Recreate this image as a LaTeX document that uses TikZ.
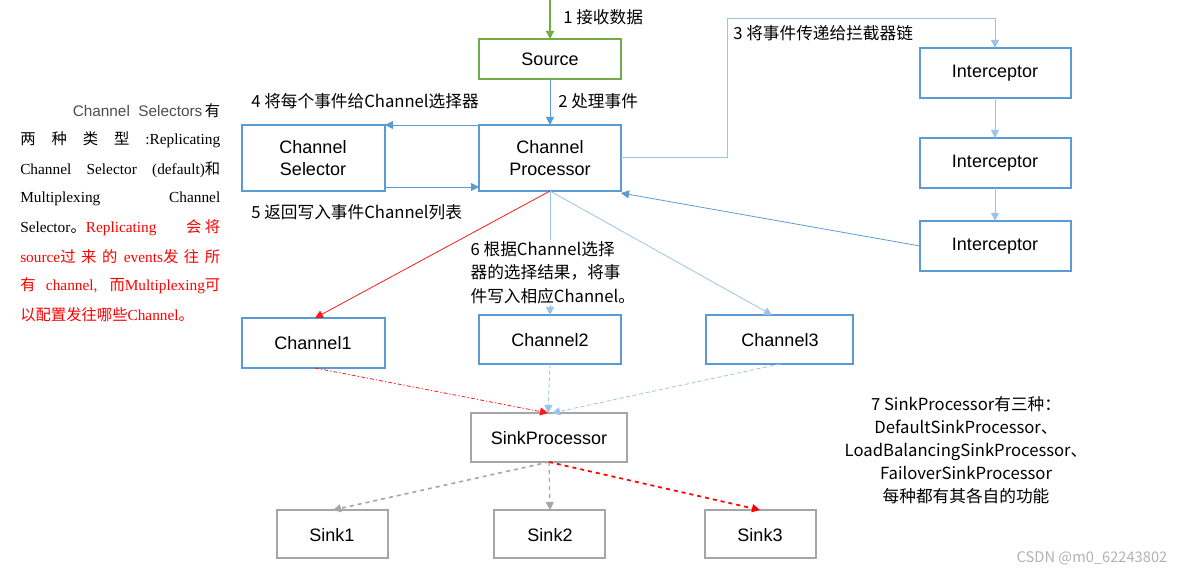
\documentclass[tikz,border=0pt]{standalone}
\usepackage{fontspec}
\setmainfont{Liberation Serif}
\newfontfamily\cjk{Noto Sans CJK SC}
\newfontfamily\sfnt{Liberation Sans}
\usetikzlibrary{arrows.meta}
\definecolor{bl}{HTML}{5B9BD5}
\definecolor{blb}{HTML}{9DC3E6}
\definecolor{gr}{HTML}{70AD47}
\definecolor{gy}{HTML}{A6A6A6}
\begin{document}
\begin{tikzpicture}[x=0.75pt,y=-0.75pt,
  box/.style={draw=#1,line width=0.9pt,fill=white},
  lbl/.style={anchor=west,inner sep=0,font=\cjk\fontsize{12.5}{15}\selectfont},
  bt/.style={font=\sfnt\fontsize{13.5}{17}\selectfont,align=center},
  arr/.style={-{Triangle[length=6pt,width=6pt]},line width=0.6pt}]
\useasboundingbox (0,0) rectangle (1186,577);
\draw[box=gr] (479,39) rectangle (621,79); \node[bt] (src) at (550,59) {Source};
\coordinate (srcN) at (550,39); \coordinate (srcS) at (550,79);
\draw[box=bl] (242,125) rectangle (385,191); \node[bt] (cs) at (313,158) {Channel\\Selector};
\draw[box=bl] (479,125) rectangle (621,191); \node[bt] (cp) at (550,158) {Channel\\Processor};
\draw[box=bl] (920,48) rectangle (1071,98); \node[bt] (i1) at (995,73) {Interceptor};
\draw[box=bl] (920,138) rectangle (1071,188); \node[bt] (i2) at (995,163) {Interceptor};
\draw[box=bl] (920,221) rectangle (1071,271); \node[bt] (i3) at (995,246) {Interceptor};
\draw[box=bl] (242,318) rectangle (385,368); \node[bt] (c1) at (313,343) {Channel1};
\draw[box=bl] (479,315) rectangle (621,364); \node[bt] (c2) at (550,340) {Channel2};
\draw[box=bl] (706,315) rectangle (853,364); \node[bt] (c3) at (780,340) {Channel3};
\draw[box=gy] (471,413) rectangle (627,462); \node[bt] (sp) at (549,438) {SinkProcessor};
\draw[box=gy] (277,510) rectangle (388,558); \node[bt] (s1) at (332,535) {Sink1};
\draw[box=gy] (494,510) rectangle (605,558); \node[bt] (s2) at (550,535) {Sink2};
\draw[box=gy] (705,510) rectangle (816,558); \node[bt] (s3) at (760,535) {Sink3};
% coordinates
\coordinate (top) at (550,0);
\coordinate (cpT) at (550,125); \coordinate (cpR) at (621,157); \coordinate (cpB) at (550,191);
\coordinate (cpBR) at (621,193);
\coordinate (k1) at (727,157); \coordinate (k2) at (727,18); \coordinate (k3) at (995,18);
\coordinate (i1T) at (995,48); \coordinate (i1B) at (995,98); \coordinate (i2T) at (995,138);
\coordinate (i2B) at (995,188); \coordinate (i3T) at (995,221); \coordinate (i3L) at (920,246);
\coordinate (cpa) at (479,125); \coordinate (csa) at (385,125);
\coordinate (csb) at (385,187); \coordinate (cpb) at (479,187);
\coordinate (c1T) at (315,318); \coordinate (c2T) at (550,315); \coordinate (c3T) at (772,315);
\coordinate (c1B) at (315,368); \coordinate (c2B) at (550,364); \coordinate (c3B) at (780,364);
\coordinate (spT1) at (548,413); \coordinate (spT2) at (552,413);
\coordinate (spB) at (549,462);
\coordinate (s1T) at (333,510); \coordinate (s2T) at (550,510); \coordinate (s3T) at (760,510);
\draw[arr,gr,line width=0.9pt] (top) -- (srcN);
\draw[arr,bl] (srcS) -- (cpT);
\draw[arr,blb] (cpR) -- (k1) -- (k2) -- (k3) -- (i1T);
\draw[arr,blb] (i1B) -- (i2T);
\draw[arr,blb] (i2B) -- (i3T);
\draw[arr,bl] (i3L) -- (cpBR);
\draw[arr,bl] (cpa) -- (csa);
\draw[arr,bl] (csb) -- (cpb);
\draw[arr,red!90] (cpB) -- (c1T);
\draw[arr,blb] (cpB) -- (c2T);
\draw[arr,blb] (cpB) -- (c3T);
\draw[arr,red!90,dash pattern=on 3pt off 1.5pt on 1pt off 1.5pt] (c1B) -- (spT1);
\draw[arr,blb,densely dashed] (c2B) -- (spT1);
\draw[arr,blb,densely dashed] (c3B) -- (spT2);
\draw[arr,gy,dashed,line width=1.2pt] (spB) -- (s1T);
\draw[arr,gy,dashed,line width=0.9pt] (spB) -- (s2T);
\draw[arr,red,dashed,line width=1.3pt] (spB) -- (s3T);
% labels
\node[lbl] (l1) at (563,17) {1 接收数据};
\node[lbl] (l2) at (558,101) {2 处理事件};
\node[lbl] (l3) at (733,33) {3 将事件传递给拦截器链};
\node[lbl] (l4) at (251,101) {4 将每个事件给Channel选择器};
\node[lbl] (l5) at (251,212) {5 返回写入事件Channel列表};
\node[lbl,anchor=north west,align=left,fill=white,inner sep=1pt,font=\cjk\fontsize{12.5}{17.5}\selectfont] (l6) at (469,240) {6 根据Channel选择\\器的选择结果，将事\\件写入相应Channel。};
\node[font=\cjk\fontsize{12.5}{17.3}\selectfont,align=center] (l7) at (966,450) {7 SinkProcessor有三种：\\DefaultSinkProcessor、\\LoadBalancingSinkProcessor、\\FailoverSinkProcessor\\每种都有其各自的功能};
% left paragraph
\begin{scope}[every node/.style={anchor=west,inner sep=0,font=\fontsize{11.5}{13}\selectfont}]
\node (p1) at (20,111) {\makebox[150pt][r]{{\sfnt\color{black!70}Channel\ \ Selectors}\,{\cjk 有}}};
\node (p2) at (20,140) {\makebox[150pt][s]{\cjk 两 \hfill 种 \hfill 类 \hfill 型 \hfill \normalfont :Replicating}};
\node (p3) at (20,170) {\makebox[150pt][s]{Channel Selector (default){\cjk 和}}};
\node (p4) at (20,199) {\makebox[150pt][s]{Multiplexing\hfill Channel}};
\node (p5) at (20,228) {\makebox[150pt][s]{Selector{\cjk 。}\color{red}Replicating \hfill{\cjk 会 将}}};
\node[red] (p6) at (20,257) {\makebox[150pt][s]{source{\cjk 过 来 的} events{\cjk 发 往 所}}};
\node[red] (p7) at (20,286) {\makebox[150pt][s]{{\cjk 有} channel, {\cjk 而}Multiplexing{\cjk 可}}};
\node[red] (p8) at (20,315) {{\cjk 以配置发往哪些}Channel{\cjk 。}};
\end{scope}
\node[anchor=east,text=gray!60,font=\cjk\fontsize{11}{13}\selectfont] (wm) at (1172,558) {CSDN @m0\_62243802};
\end{tikzpicture}
\end{document}
